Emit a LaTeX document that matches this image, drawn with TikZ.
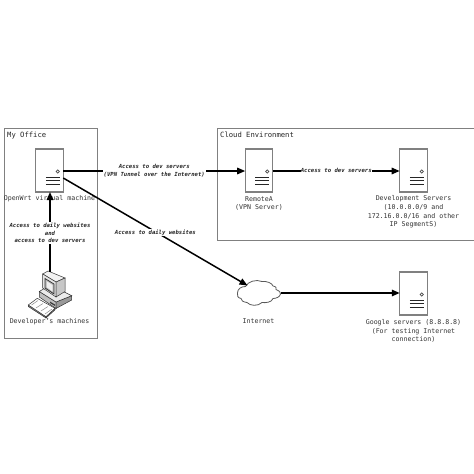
\documentclass[tikz,border=0pt]{standalone}
\usepackage{fontspec}
\setmainfont{DejaVu Sans Mono}
\usetikzlibrary{arrows.meta}
\definecolor{edgegray}{HTML}{808080}
\tikzset{
  x=1pt,y=-1pt,
  group/.style={draw=edgegray,line width=1pt,fill=white},
  server/.style={draw=edgegray,line width=1.1pt,fill=white,minimum width=27.5pt,minimum height=43pt,inner sep=0pt,outer sep=0pt},
  captxt/.style={font=\fontsize{6.6}{8.6}\selectfont,align=center,inner sep=0pt,text=black!80},
  titletxt/.style={font=\fontsize{7.2}{8.6}\selectfont,inner sep=0pt,text=black!85},
  link/.style={draw=black,line width=1.5pt,-{Triangle[length=8pt,width=6.5pt]}},
  linklabel/.style={font=\fontsize{5.6}{7.5}\selectfont\bfseries\itshape,align=center,fill=white,inner sep=0.8pt,text=black!85},
}
\newcommand{\serverdetail}[1]{%
  \draw[black!70,line width=0.6pt] ([xshift=22pt,yshift=-22.5pt]#1.north west) circle (1.6pt);
  \foreach \dy in {28,31.5,35}{\draw[black!85,line width=1pt] ([xshift=10pt,yshift=-\dy pt]#1.north west) -- ++(14,0);}
}
\begin{document}
\begin{tikzpicture}
\useasboundingbox (0,0) rectangle (474,474);
\node[group,minimum width=93pt,minimum height=210pt,inner sep=0pt,anchor=north west] (office) at (3.5,128) {};
\node[group,minimum width=260pt,minimum height=112pt,inner sep=0pt,anchor=north west] (cloudenv) at (217,128) {};
\node[titletxt,anchor=west] (officet) at (7,136) {My Office};
\node[titletxt,anchor=west] (cloudt) at (220,135) {Cloud Environment};

\node[server] (wrt) at (49.5,170.5) {};
\node[server] (remote) at (259,170.5) {};
\node[server] (dev) at (413.5,170.5) {};
\node[server] (google) at (413.5,293.5) {};
\serverdetail{wrt}\serverdetail{remote}\serverdetail{dev}\serverdetail{google}

% internet cloud
\coordinate (cloudL) at (237.5,293);
\coordinate (cloudR) at (280.5,293);
\draw[draw=black!65,line width=0.8pt,fill=white]
 (cloudL) .. controls (237.5,289) and (241,286.5) .. (245.5,286.5)
 .. controls (248,281.5) and (256,279) .. (262,281.5)
 .. controls (267,281) and (272,283) .. (273,286)
 .. controls (276,286.5) and (277,288) .. (276,289.5)
 .. controls (279,290) and (281,292.5) .. (280.5,294)
 .. controls (280,297) and (276,298.5) .. (273,298.5)
 .. controls (272,302.5) and (265,303) .. (262,302.5)
 .. controls (258,306.5) and (250,306) .. (247,302.5)
 .. controls (243,302) and (241,300.5) .. (241,298.5)
 .. controls (238,298) and (236.5,295.5) .. (cloudL) -- cycle;

% computer
\coordinate (pc) at (50,272);
\coordinate (wrtin) at (50,192);
\coordinate (wrtr) at (63.3,171);
\coordinate (remotel) at (245.2,171);
\coordinate (remoter) at (272.8,171);
\coordinate (devl) at (399.7,171);
\begin{scope}[line width=0.5pt,draw=black!80]
 \draw[fill=black!25] (39.3,291.5) -- (56,302) -- (56,308.5) -- (39.3,297) -- cycle;
 \draw[fill=black!40] (56,302) -- (71.7,295.7) -- (71.7,300) -- (56,308.5) -- cycle;
 \draw[fill=black!8] (39.3,291.5) -- (50,285) -- (71.7,295.7) -- (56,302) -- cycle;
 \fill[black!75] (50,301.5) -- (55,304.5) -- (55,306) -- (50,303) -- cycle;
 \draw[fill=black!5] (42.7,274) -- (48,271) -- (65,278) -- (56,282) -- cycle;
 \draw[fill=black!10] (42.7,274) -- (56,282) -- (56,297) -- (42.7,288) -- cycle;
 \draw[fill=black!22] (56,282) -- (65,278) -- (65,291.5) -- (56,297) -- cycle;
 \draw[line width=0.7pt,fill=black!30] (45,278.5) -- (54,284) -- (54,294) -- (45,288) -- cycle;
 \fill[black!6] (46.5,281) -- (52.5,285) -- (52.5,291.5) -- (46.5,287) -- cycle;
 \draw[fill=black!35] (28.3,305) -- (46,316.7) -- (46,318) -- (28.3,306.5) -- cycle;
 \draw[fill=black!35] (46,316.7) -- (55,308.3) -- (55,309.8) -- (46,318) -- cycle;
 \draw[fill=white] (28.3,305) -- (37.3,298.3) -- (55,308.3) -- (46,316.7) -- cycle;
 \draw[black!45] (31.5,305) -- (38,300.5) (36,308) -- (43,303.5) (41,311) -- (48,306.5) (45,314) -- (52,309);
\end{scope}

% captions
\node[captxt] (wrtc) at (49.5,198.5) {OpenWrt virtual machine};
\node[captxt] (remotec) at (259,203.5) {RemoteA\\(VPN Server)};
\node[captxt] (devc) at (413.5,212) {Development Servers\\(10.0.0.0/9 and\\172.16.0.0/16 and other\\IP SegmentS)};
\node[captxt] (pcc) at (49.5,321.5) {Developer's machines};
\node[captxt] (netc) at (258.5,321.5) {Internet};
\node[captxt] (googlec) at (413.5,331) {Google servers (8.8.8.8)\\(For testing Internet\\connection)};

% links
\draw[link] (wrtr) -- node[linklabel,pos=0.5,yshift=0.5pt] {Access to dev servers\\(VPN Tunnel over the Internet)} (remotel);
\draw[link] (remoter) -- node[linklabel,pos=0.5,inner sep=0.3pt,yshift=0.5pt] {Access to dev servers} (devl);
\draw[link] (wrt.east |- 0,178) -- node[linklabel,pos=0.5,yshift=-1pt] {Access to daily websites} (247.5,285.5);
\draw[link] (pc) -- node[linklabel,pos=0.5,yshift=-1pt] {Access to daily websites\\and\\access to dev servers} (wrtin);
\draw[link] (cloudR) -- (google.west |- cloudR);
\end{tikzpicture}
\end{document}
